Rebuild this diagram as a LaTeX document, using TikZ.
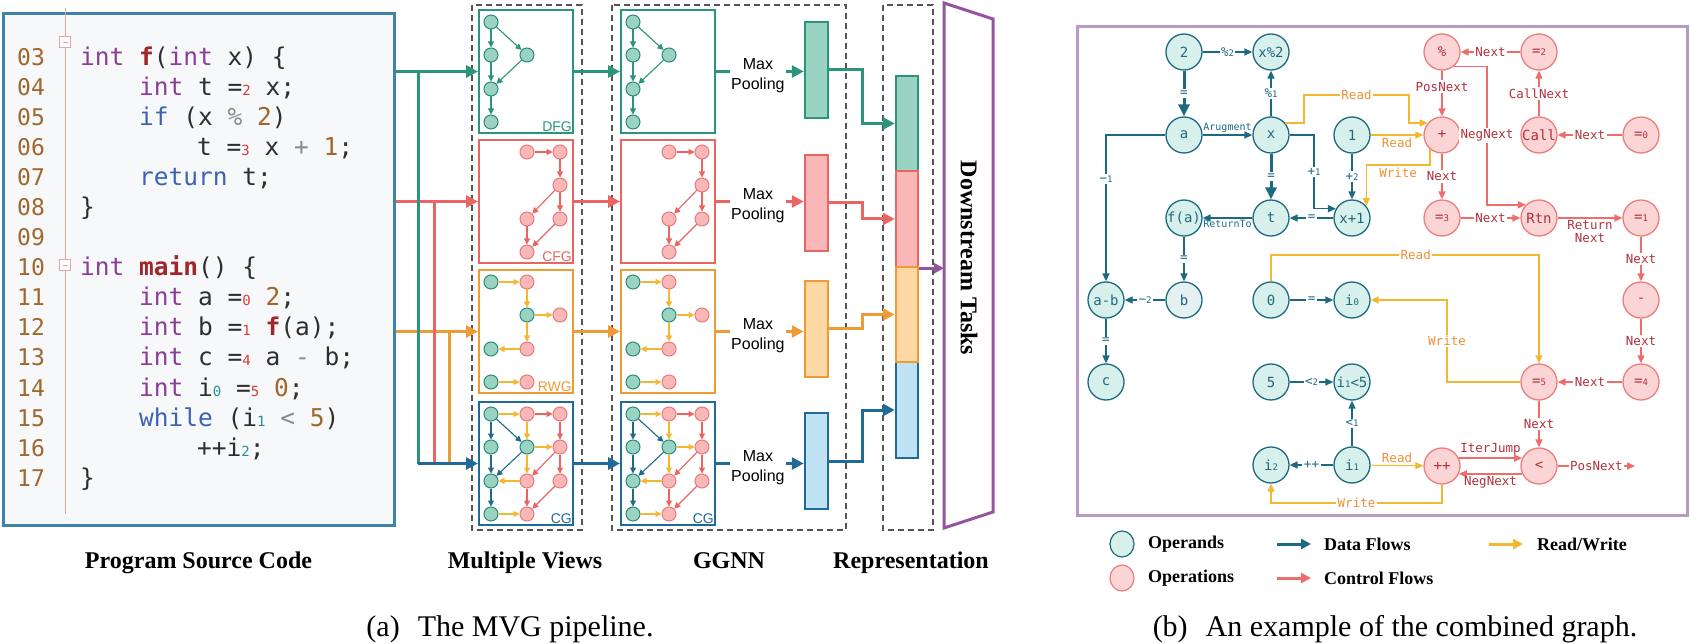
\documentclass[tikz,border=0pt]{standalone}
\usepackage{fontspec}
\setmainfont{Liberation Serif}
\setsansfont{Liberation Sans}
\setmonofont{DejaVu Sans Mono}
\usetikzlibrary{arrows.meta,positioning,shapes.geometric}

% colours
\definecolor{codeframe}{HTML}{3F83A8}
\definecolor{codebg}{HTML}{F6F8F9}
\definecolor{gutter}{HTML}{E6A5A5}
\definecolor{lineno}{HTML}{A0672E}
\definecolor{kwtype}{HTML}{8B3E96}
\definecolor{kwctl}{HTML}{3D62B5}
\definecolor{fname}{HTML}{A0262B}
\definecolor{numlit}{HTML}{A0662A}
\definecolor{codetxt}{HTML}{2E2E2E}
\definecolor{oplight}{HTML}{8A8A8A}
\definecolor{subred}{HTML}{D93A3A}
\definecolor{subteal}{HTML}{2A8E96}
\definecolor{stagegray}{HTML}{555555}
\definecolor{dfgcol}{HTML}{2A957A}
\definecolor{dfgfill}{HTML}{9BD3C3}
\definecolor{cfgcol}{HTML}{EA6461}
\definecolor{cfgfill}{HTML}{F9B7B8}
\definecolor{rwgcol}{HTML}{EF9B35}
\definecolor{rwgfill}{HTML}{FDD8A4}
\definecolor{cgcol}{HTML}{1F6A96}
\definecolor{cgfill}{HTML}{BFE2F4}
\definecolor{mtealln}{HTML}{2C8A79}
\definecolor{mpinkln}{HTML}{E87A7A}
\definecolor{rwedge}{HTML}{F5B731}
\definecolor{cgdf}{HTML}{1E6C8A}
\definecolor{taskcol}{HTML}{93559E}
\definecolor{framecol}{HTML}{B89BC3}
\definecolor{opdline}{HTML}{1C6A80}
\definecolor{opdfill}{HTML}{D8F0EB}
\definecolor{oprline}{HTML}{EC7D7D}
\definecolor{oprfill}{HTML}{FBD5D5}
\definecolor{oprtext}{HTML}{B2303B}
\definecolor{cfline}{HTML}{EE6C6A}
\definecolor{rwtext}{HTML}{EF8F36}

% fonts
\newcommand\codefont{\ttfamily\fontsize{24.5}{24.5}\selectfont}
\newcommand\gfont{\ttfamily\fontsize{14}{14}\selectfont}
\newcommand\lfont{\ttfamily\fontsize{12.5}{12.5}\selectfont}

% code colouring
\newcommand\kt[1]{\textcolor{kwtype}{#1}}
\newcommand\kc[1]{\textcolor{kwctl}{#1}}
\newcommand\fnc[1]{\textcolor{fname}{\bfseries #1}}
\newcommand\numc[1]{\textcolor{numlit}{#1}}
\newcommand\opc[1]{\textcolor{oplight}{#1}}
\newcommand\esub[1]{{\fontsize{14}{14}\selectfont\textcolor{subred}{#1}}}
\newcommand\isub[1]{{\fontsize{14}{14}\selectfont\textcolor{subteal}{#1}}}
\newcommand\gsub[1]{{\fontsize{9}{9}\selectfont #1}}

% small graphs of the views
\newcommand\mteals{\foreach \n/\x/\y in {a1/12/12,a2/12/45,b2/48/45,a3/12/79,a4/12/112} \node[mteal] (\n) at (\x,\y) {};}
\newcommand\mpinks{\foreach \n/\x/\y in {b1/48/12,c1/81/12,c2/81/45,b3/48/79,c3/81/79,b4/48/112} \node[mpink] (\n) at (\x,\y) {};}
\newcommand\mdf[1]{\foreach \s/\t in {a1/a2,a1/b2,b2/a3,a2/a3,a3/a4} \draw[medge,#1] (\s) -- (\t);}
\newcommand\mcf{\foreach \s/\t in {b1/c1,c1/c2,c2/b3,c2/c3,b3/b4,c3/b4} \draw[medge,cfgcol] (\s) -- (\t);}
\newcommand\mrw{\foreach \s/\t in {a1/b1,b1/b2,b2/c2,b2/b3,b3/a3,a4/b4} \draw[medge,rwedge] (\s) -- (\t);}

\tikzset{
  codebox/.style={draw=codeframe, fill=codebg, line width=3, minimum width=391, minimum height=511, inner sep=0},
  foldbox/.style={draw=gutter, fill=white, line width=0.8, minimum size=11, inner sep=0},
  lineno/.style={anchor=base west, inner sep=0, text=lineno, font=\ttfamily\fontsize{23}{23}\selectfont},
  codeln/.style={anchor=base west, inner sep=0, text=codetxt, font=\codefont},
  stagebox/.style={draw=stagegray, dash pattern=on 6pt off 4pt, line width=2.5},
  viewbox/.style={draw=#1, fill=white, line width=2, minimum width=94, minimum height=123, inner sep=0},
  viewlbl/.style={anchor=south east, inner sep=2, font=\sffamily\fontsize{14}{14}\selectfont},
  mnode/.style={circle, minimum size=14, inner sep=0, line width=1},
  mteal/.style={mnode, draw=mtealln, fill=dfgfill},
  mpink/.style={mnode, draw=mpinkln, fill=cfgfill},
  medge/.style={line width=1.1, -{Triangle[length=6,width=6]}},
  pipe/.style={line width=3, -{Triangle[length=12,width=12]}},
  feedline/.style={line width=3},
  poolbar/.style={draw=#1, line width=2.5, minimum width=23, minimum height=96, inner sep=0},
  maxpool/.style={anchor=west, align=center, font=\sffamily\fontsize{16}{20}\selectfont, inner sep=1},
  stagetitle/.style={anchor=base, font=\bfseries\fontsize{24}{24}\selectfont},
  subcap/.style={anchor=base, font=\fontsize{30}{30}\selectfont},
  opd/.style={circle, draw=opdline, fill=opdfill, text=opdline, line width=1.3, minimum size=36, inner sep=0, font=\gfont},
  opr/.style={circle, draw=oprline, fill=oprfill, text=oprtext, line width=1.3, minimum size=36, inner sep=0, font=\gfont},
  df/.style={draw=opdline, line width=1.5, -{Triangle[length=8,width=7]}},
  dfthick/.style={draw=opdline, line width=3, -{Triangle[length=12,width=11]}},
  cf/.style={draw=cfline, line width=1.5, -{Triangle[length=8,width=7]}},
  rw/.style={draw=rwedge, line width=1.5, -{Triangle[length=8,width=7]}},
  dflbl/.style={fill=white, inner sep=1.5, text=opdline, font=\lfont},
  cflbl/.style={fill=white, inner sep=1.5, text=oprtext, font=\lfont},
  rwlbl/.style={fill=white, inner sep=1.5, text=rwtext, font=\lfont},
  cftxt/.style={inner sep=2, text=oprtext, font=\lfont},
  rwtxt/.style={inner sep=2, text=rwtext, font=\lfont},
  smalllbl/.style={inner sep=1.5, text=opdline, font=\ttfamily\fontsize{10}{10}\selectfont},
  legtxt/.style={anchor=west, inner sep=0, font=\bfseries\fontsize{18}{18}\selectfont},
  legkey/.style={ellipse, line width=1.2, minimum width=24, minimum height=26, inner sep=0},
  legarrow/.style={line width=3, -{Triangle[length=10,width=10]}},
}

\begin{document}
\begin{tikzpicture}[x=1pt, y=-1pt]
  \useasboundingbox (0,0) rectangle (1690,644);

  % program source code
  \node[codebox] (code) at (198.5,269.5) {};
  \draw[gutter, line width=1] (65,8) -- (65,514);
  \node[foldbox] (fold1) at (65,42) {};
  \node[foldbox] (fold2) at (65,265) {};
  \draw[gutter] ([xshift=-2.5]fold1.center) -- ([xshift=2.5]fold1.center);
  \draw[gutter] ([xshift=-2.5]fold2.center) -- ([xshift=2.5]fold2.center);
  \foreach \n [count=\i from 0] in {03,04,05,06,07,08,09,10,11,12,13,14,15,16,17}
    \node[lineno] (ln\n) at (17,{66+30*\i}) {\n};
  \node[codeln] (c03) at (80,66) {\kt{int} \fnc{f}(\kt{int} x) \{};
  \node[codeln] (c04) at (139,96) {\kt{int} t =\esub{2} x;};
  \node[codeln] (c05) at (139,126) {\kc{if} (x \opc{\%} \numc{2})};
  \node[codeln] (c06) at (197,156) {t =\esub{3} x \opc{+} \numc{1};};
  \node[codeln] (c07) at (139,186) {\kc{return} t;};
  \node[codeln] (c08) at (80,216) {\}};
  \node[codeln] (c10) at (80,276) {\kt{int} \fnc{main}() \{};
  \node[codeln] (c11) at (139,306) {\kt{int} a =\esub{0} \numc{2};};
  \node[codeln] (c12) at (139,336) {\kt{int} b =\esub{1} \fnc{f}(a);};
  \node[codeln] (c13) at (139,366) {\kt{int} c =\esub{4} a \opc{-} b;};
  \node[codeln] (c14) at (139,396) {\kt{int} i\isub{0} =\esub{5} \numc{0};};
  \node[codeln] (c15) at (139,426) {\kc{while} (i\isub{1} \opc{<} \numc{5})};
  \node[codeln] (c16) at (197,456) {++i\isub{2};};
  \node[codeln] (c17) at (80,486) {\}};

  % stage frames
  \draw[stagebox] (472,5) rectangle (582,530);
  \draw[stagebox] (612,5) rectangle (846,530);
  \draw[stagebox] (883,5) rectangle (933,530);

  % view boxes and GGNN boxes
  \node[viewbox=dfgcol] (vdfg) at (526,71.5) {};
  \node[viewbox=cfgcol] (vcfg) at (526,201.5) {};
  \node[viewbox=rwgcol] (vrwg) at (526,331.5) {};
  \node[viewbox=cgcol] (vcg) at (526,463.5) {};
  \node[viewbox=dfgcol] (gdfg) at (668,71.5) {};
  \node[viewbox=cfgcol] (gcfg) at (668,201.5) {};
  \node[viewbox=rwgcol] (grwg) at (668,331.5) {};
  \node[viewbox=cgcol] (gcg) at (668,463.5) {};
  \foreach \bx in {479,621} {
    \begin{scope}[shift={(\bx,10)}]
      \mteals \mdf{dfgcol}
    \end{scope}
    \begin{scope}[shift={(\bx,140)}]
      \mpinks \mcf
    \end{scope}
    \begin{scope}[shift={(\bx,270)}]
      \foreach \n/\x/\y in {a1/12/12,b2/48/45,a3/12/79,a4/12/112} \node[mteal] (\n) at (\x,\y) {};
      \foreach \n/\x/\y in {b1/48/12,c2/81/45,b3/48/79,b4/48/112} \node[mpink] (\n) at (\x,\y) {};
      \mrw
    \end{scope}
    \begin{scope}[shift={(\bx,402)}]
      \mteals \mpinks \mdf{cgdf} \mcf \mrw
    \end{scope}
  }
  \node[viewlbl, text=dfgcol] (ldfg) at (vdfg.south east) {DFG};
  \node[viewlbl, text=cfgcol] (lcfg) at (vcfg.south east) {CFG};
  \node[viewlbl, text=rwgcol] (lrwg) at (vrwg.south east) {RWG};
  \node[viewlbl, text=cgcol] (lcg) at (vcg.south east) {CG};
  \node[viewlbl, text=cgcol] (lgcg) at (gcg.south east) {CG};

  % code to views
  \coordinate (tapa) at (418,0);
  \coordinate (tapb) at (434,0);
  \coordinate (tapc) at (449,0);
  \draw[pipe, dfgcol] (code.east |- vdfg.west) -- (vdfg.west);
  \draw[pipe, cfgcol] (code.east |- vcfg.west) -- (vcfg.west);
  \draw[pipe, rwgcol] (code.east |- vrwg.west) -- (vrwg.west);
  \draw[feedline, dfgcol] (tapa |- vdfg.west) -- (tapa |- vcg.west);
  \draw[feedline, cfgcol] (tapb |- vcfg.west) -- (tapb |- vcg.west);
  \draw[feedline, rwgcol] (tapc |- vrwg.west) -- (tapc |- vcg.west);
  \draw[pipe, cgcol] (tapa |- vcg.west) -- (vcg.west);

  % views to GGNN
  \draw[pipe, dfgcol] (vdfg.east) -- (gdfg.west);
  \draw[pipe, cfgcol] (vcfg.east) -- (gcfg.west);
  \draw[pipe, rwgcol] (vrwg.east) -- (grwg.west);
  \draw[pipe, cgcol] (vcg.east) -- (gcg.west);

  % max pooling
  \node[poolbar=dfgcol, fill=dfgfill] (pool1) at (816.5,70) {};
  \node[poolbar=cfgcol, fill=cfgfill] (pool2) at (816.5,203) {};
  \node[poolbar=rwgcol, fill=rwgfill] (pool3) at (816.5,329) {};
  \node[poolbar=cgcol, fill=cgfill] (pool4) at (816.5,461) {};
  \foreach \g/\c/\k in {gdfg/dfgcol/1,gcfg/cfgcol/2,grwg/rwgcol/3,gcg/cgcol/4} {
    \node[maxpool] (mp\k) at ([xshift=14,yshift=-4]\g.east) {Max\\Pooling};
    \draw[\c, line width=3] (\g.east) -- (\g.east -| mp\k.west);
    \draw[pipe, \c] (\g.east -| mp\k.east) -- (\g.east -| pool\k.west);
  }

  % representation
  \node[poolbar=dfgcol, fill=dfgfill, minimum width=22, minimum height=95] (rep1) at (907,123.5) {};
  \node[poolbar=cfgcol, fill=cfgfill, minimum width=22, minimum height=96] (rep2) at (907,219) {};
  \node[poolbar=cgcol, fill=cgfill, minimum width=22, minimum height=96] (rep4) at (907,410) {};
  \node[poolbar=rwgcol, fill=rwgfill, minimum width=22, minimum height=95] (rep3) at (907,314.5) {};
  \coordinate (tapr) at (862,0);
  \draw[pipe, dfgcol] (pool1.east) -- (pool1.east -| tapr) |- (rep1.west);
  \draw[pipe, cfgcol] (pool2.east) -- (pool2.east -| tapr) |- (rep2.west);
  \draw[pipe, rwgcol] (pool3.east) -- (pool3.east -| tapr) |- (rep3.west);
  \draw[pipe, cgcol] (pool4.east) -- (pool4.east -| tapr) |- (rep4.west);

  % downstream tasks
  \coordinate (taskx) at (944,0);
  \draw[taskcol, line width=3, line join=miter] (944,3) -- (993,19) -- (993,512) -- (944,528) -- cycle;
  \draw[taskcol, line width=3, -{Triangle[length=10,width=10]}] (rep2.south east) -- (rep2.south east -| taskx);
  \node[rotate=-90, font=\bfseries\fontsize{24}{24}\selectfont] (tasks) at (969,258) {Downstream Tasks};

  % titles
  \node[stagetitle] (tcode) at (198.5,568) {Program Source Code};
  \node[stagetitle] (tviews) at (525,568) {Multiple Views};
  \node[stagetitle] (tggnn) at (729,568) {GGNN};
  \node[stagetitle] (trep) at (911,568) {Representation};
  \node[subcap] (capa) at (510,636) {(a)\hspace{0.6em}The MVG pipeline.};

  % combined graph
  \draw[framecol, line width=3] (1077,27) rectangle (1687,515);

  % operands
  \node[opd] (vtwo) at (1184,52) {2};
  \node[opd] (vxmod) at (1271,52) {x\%2};
  \node[opd] (va) at (1184,135) {a};
  \node[opd] (vx) at (1271,135) {x};
  \node[opd] (vone) at (1352,135) {1};
  \node[opd] (vfa) at (1184,218) {f(a)};
  \node[opd] (vt) at (1271,218) {t};
  \node[opd] (vxp) at (1352,218) {x+1};
  \node[opd] (vab) at (1106,300) {a-b};
  \node[opd, fill=opdfill!80!opdline!35] (vb) at (1184,300) {b};
  \node[opd] (vzero) at (1271,300) {0};
  \node[opd] (vi0) at (1352,300) {i\gsub{0}};
  \node[opd] (vc) at (1106,382) {c};
  \node[opd] (vfive) at (1271,382) {5};
  \node[opd] (vlt) at (1352,382) {i\gsub{1}<5};
  \node[opd] (vitwo) at (1271,465) {i\gsub{2}};
  \node[opd] (vione) at (1352,465) {i\gsub{1}};

  % operations
  \node[opr] (omod) at (1442,52) {\%};
  \node[opr] (oeqtwo) at (1539,52) {=\gsub{2}};
  \node[opr] (oplus) at (1442,135) {+};
  \node[opr] (ocall) at (1539,135) {Call};
  \node[opr] (oeqzero) at (1641,135) {=\gsub{0}};
  \node[opr] (oeqthree) at (1442,218) {=\gsub{3}};
  \node[opr] (ortn) at (1539,218) {Rtn};
  \node[opr] (oeqone) at (1641,218) {=\gsub{1}};
  \node[opr] (ominus) at (1641,300) {-};
  \node[opr] (oeqfive) at (1539,382) {=\gsub{5}};
  \node[opr] (oeqfour) at (1641,382) {=\gsub{4}};
  \node[opr] (oinc) at (1442,466) {++};
  \node[opr] (oless) at (1539,466) {<};

  % bends
  \coordinate (bendx) at (1314,0);
  \coordinate (negx) at (1487,0);
  \coordinate (rdA) at (1304,95);
  \coordinate (rdB) at (1409,95);
  \coordinate (wry) at (0,165);
  \coordinate (rdy) at (0,255);
  \coordinate (wrx) at (1447,0);
  \coordinate (wrz) at (0,503);
  \coordinate (posend) at (1635,466);

  % data flows
  \draw[df] (vtwo) -- node[dflbl] {\%\gsub{2}} (vxmod);
  \draw[df] (vx) -- node[dflbl] {\%\gsub{1}} (vxmod);
  \draw[dfthick] (vtwo) -- node[dflbl] {=} (va);
  \draw[df] (va) -- node[above, smalllbl] {Arugment} (vx);
  \draw[df] (va.west) -| node[dflbl, pos=0.65] {−\gsub{1}} (vab.north);
  \draw[dfthick] (vx) -- node[dflbl] {=} (vt);
  \draw[df] (vx.east) -- (vx.east -| bendx) |- node[dflbl, pos=0.25] {+\gsub{1}} (vxp.150);
  \draw[df] (vone) -- node[dflbl] {+\gsub{2}} (vxp);
  \draw[df] (vxp) -- node[dflbl] {=} (vt);
  \draw[df] (vt) -- node[below, smalllbl] {ReturnTo} (vfa);
  \draw[df] (vfa) -- node[dflbl] {=} (vb);
  \draw[df] (vb) -- node[dflbl] {−\gsub{2}} (vab);
  \draw[df] (vab) -- node[dflbl] {=} (vc);
  \draw[df] (vzero) -- node[dflbl] {=} (vi0);
  \draw[df] (vfive) -- node[dflbl] {<\gsub{2}} (vlt);
  \draw[df] (vione) -- node[dflbl] {<\gsub{1}} (vlt);
  \draw[df] (vione) -- node[dflbl] {++} (vitwo);

  % control flows
  \draw[cf] (oeqtwo) -- node[cflbl] {Next} (omod);
  \draw[cf] (omod) -- node[cflbl, pos=0.35] {PosNext} (oplus);
  \draw[cf] (omod.-50) -- (omod.-50 -| negx) |- node[cflbl, pos=0.25] {NegNext} (ortn.135);
  \draw[cf] (ocall) -- node[cflbl] {CallNext} (oeqtwo);
  \draw[cf] (oeqzero) -- node[cflbl] {Next} (ocall);
  \draw[cf] (oplus) -- node[cflbl] {Next} (oeqthree);
  \draw[cf] (oeqthree) -- node[cflbl] {Next} (ortn);
  \draw[cf] (ortn) -- node[below, cftxt, align=center] {Return\\Next} (oeqone);
  \draw[cf] (oeqone) -- node[cflbl] {Next} (ominus);
  \draw[cf] (ominus) -- node[cflbl] {Next} (oeqfour);
  \draw[cf] (oeqfour) -- node[cflbl] {Next} (oeqfive);
  \draw[cf] (oeqfive) -- node[cflbl] {Next} (oless);
  \draw[cf] (oinc.25) -- node[above, cftxt] {IterJump} (oless.155);
  \draw[cf] (oless.205) -- node[below, cftxt] {NegNext} (oinc.-25);
  \draw[cf] (oless.east) -- node[cflbl] {PosNext} (posend);

  % read / write
  \draw[rw] (vx.40) -| (rdA) -- node[rwlbl] {Read} (rdB) |- (oplus.140);
  \draw[rw] (vone) -- node[below, rwtxt] {Read} (oplus);
  \draw[rw] (oplus.230) |- node[below, rwtxt, pos=0.75] {Write} (vxp.40 |- wry) -- (vxp.40);
  \draw[rw] (vzero.north) -- (vzero.north |- rdy) -| node[rwlbl, pos=0.27] {Read} (oeqfive.north);
  \draw[rw] (oeqfive.west) -| node[rwlbl, pos=0.75] {Write} (wrx |- vi0.east) -- (vi0.east);
  \draw[rw, line width=1] (vione) -- node[above, rwtxt] {Read} (oinc);
  \draw[rw] (oinc.south) -- (oinc.south |- wrz) -| node[rwlbl, pos=0.25] {Write} (vitwo.south);

  % legend
  \node[legkey, draw=opdline, fill=opdfill] (kopd) at (1122,544) {};
  \node[legkey, draw=oprline, fill=oprfill] (kopr) at (1122,578) {};
  \node[legtxt] (topd) at (1148,544) {Operands};
  \node[legtxt] (topr) at (1148,578) {Operations};
  \node[legtxt] (tdf) at (1324,544) {Data Flows};
  \node[legtxt] (tcf) at (1324,578) {Control Flows};
  \node[legtxt] (trw) at (1537,544) {Read/Write};
  \draw[legarrow, opdline] ([xshift=-47]tdf.west) -- ([xshift=-13]tdf.west);
  \draw[legarrow, cfline] ([xshift=-47]tcf.west) -- ([xshift=-13]tcf.west);
  \draw[legarrow, rwedge] ([xshift=-48]trw.west) -- ([xshift=-14]trw.west);
  \node[subcap] (capb) at (1395,636) {(b)\hspace{0.6em}An example of the combined graph.};
\end{tikzpicture}
\end{document}
